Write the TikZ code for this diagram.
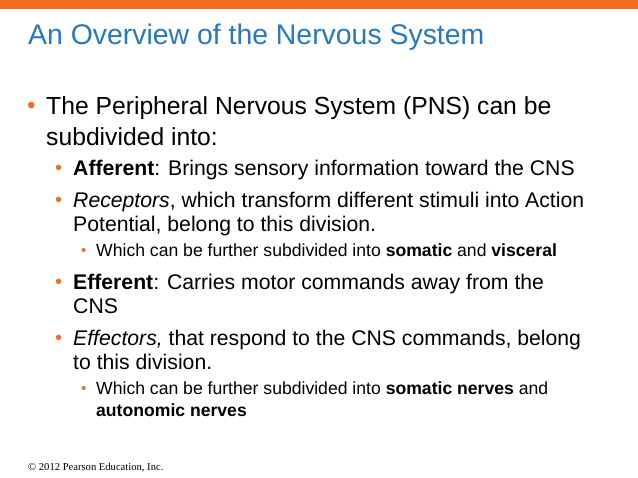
\documentclass[tikz,border=0pt]{standalone}
\usepackage{fontspec}
\setmainfont{Liberation Sans}
\newfontfamily\serifft{Liberation Serif}
\definecolor{orng}{HTML}{F26B21}
\definecolor{ttl}{HTML}{2878BE}
\begin{document}
\begin{tikzpicture}[x=1pt,y=-1pt,
  t/.style={anchor=base west,inner sep=0pt},
  la/.style={t,font=\fontsize{24.7}{28}\selectfont},
  lb/.style={t,font=\fontsize{21.2}{25}\selectfont},
  lc/.style={t,font=\fontsize{17.6}{20}\selectfont},
  bul/.style={t,text=orng}]
\useasboundingbox (0,0) rectangle (638,478);
\fill[orng] (0,0) rectangle (638,9);
\node[t,text=ttl,font=\fontsize{28.4}{32}\selectfont] (title) at (28,45) {An Overview of the Nervous System};
\node[bul,font=\fontsize{24}{26}\selectfont] (b1) at (27,114) {•};
\node[la] (l1) at (46,115) {The Peripheral Nervous System (PNS) can be};
\node[la] (l2) at (46,146) {subdivided into:};
\node[bul,font=\fontsize{20}{23}\selectfont] (b2) at (55,175) {•};
\node[lb] (l3) at (73,176) {\textbf{Afferent}: Brings sensory information toward the CNS};
\node[bul,font=\fontsize{20}{23}\selectfont] (b3) at (55,207) {•};
\node[lb] (l4) at (73,208) {\textit{Receptors}, which transform different stimuli into Action};
\node[lb] (l5) at (73,232) {Potential, belong to this division.};
\node[bul,font=\fontsize{15}{18}\selectfont] (b4) at (81,256) {•};
\node[lc] (l6) at (96,257) {Which can be further subdivided into \textbf{somatic} and \textbf{visceral}};
\node[bul,font=\fontsize{20}{23}\selectfont] (b5) at (55,289) {•};
\node[lb] (l7) at (73,290) {\textbf{Efferent}: Carries motor commands away from the};
\node[lb] (l8) at (73,314) {CNS};
\node[bul,font=\fontsize{20}{23}\selectfont] (b6) at (55,345) {•};
\node[lb] (l9) at (73,346) {\textit{Effectors,} that respond to the CNS commands, belong};
\node[lb] (l10) at (73,370) {to this division.};
\node[bul,font=\fontsize{15}{18}\selectfont] (b7) at (81,394) {•};
\node[lc] (l11) at (96,395) {Which can be further subdivided into \textbf{somatic nerves} and};
\node[lc] (l12) at (96,417) {\textbf{autonomic nerves}};
\node[t,font=\serifft\fontsize{10.6}{13}\selectfont] (foot) at (28,471) {© 2012 Pearson Education, Inc.};
\end{tikzpicture}
\end{document}
